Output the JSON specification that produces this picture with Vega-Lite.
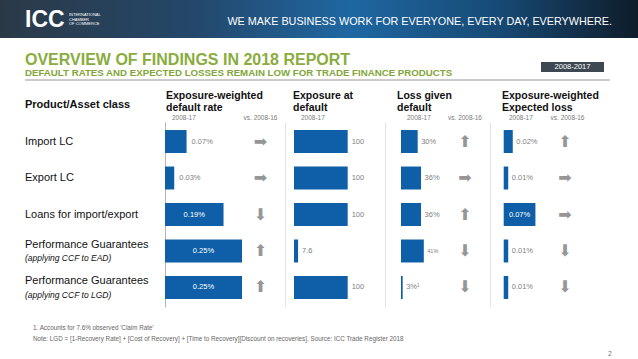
{
  "$schema": "https://vega.github.io/schema/vega-lite/v6.json",
  "padding": 0,
  "background": "white",
  "spacing": 0,
  "config": {
    "view": {"stroke": null},
    "font": "Liberation Sans",
    "title": {"font": "Liberation Sans"},
    "concat": {"spacing": 0}
  },
  "datasets": {
    "rows": [
      {"key": "Import LC", "l1": "Import LC", "l2": null, "dr": 0.07, "drL": "0.07%", "drA": "➡", "ead": 100, "eadL": "100", "lgd": 30, "lgdL": "30%", "lgdA": "⬆", "el": 0.02, "elL": "0.02%", "elA": "⬆"},
      {"key": "Export LC", "l1": "Export LC", "l2": null, "dr": 0.03, "drL": "0.03%", "drA": "➡", "ead": 100, "eadL": "100", "lgd": 36, "lgdL": "36%", "lgdA": "➡", "el": 0.01, "elL": "0.01%", "elA": "➡"},
      {"key": "Loans for import/export", "l1": "Loans for import/export", "l2": null, "dr": 0.19, "drL": "0.19%", "drA": "⬇", "ead": 100, "eadL": "100", "lgd": 36, "lgdL": "36%", "lgdA": "⬆", "el": 0.07, "elL": "0.07%", "elA": "➡"},
      {"key": "Performance Guarantees (applying CCF to EAD)", "l1": "Performance Guarantees", "l2": "(applying CCF to EAD)", "dr": 0.25, "drL": "0.25%", "drA": "⬆", "ead": 7.6, "eadL": "7.6", "lgd": 41, "lgdL": "41%", "lgdA": "⬇", "el": 0.01, "elL": "0.01%", "elA": "⬇"},
      {"key": "Performance Guarantees (applying CCF to LGD)", "l1": "Performance Guarantees", "l2": "(applying CCF to LGD)", "dr": 0.25, "drL": "0.25%", "drA": "⬆", "ead": 100, "eadL": "100", "lgd": 3, "lgdL": "3%¹", "lgdA": "⬇", "el": 0.01, "elL": "0.01%", "elA": "⬇"}
    ]
  },
  "vconcat": [
    {
      "width": 638, "height": 38,
      "data": {"values": [{}]},
      "layer": [
        {"mark": {"type": "rect", "color": {"gradient": "linear", "x1": 0, "x2": 1, "y1": 0, "y2": 0, "stops": [{"offset": 0, "color": "#2b3947"}, {"offset": 0.3, "color": "#24476a"}, {"offset": 0.55, "color": "#1f67a2"}, {"offset": 0.78, "color": "#174a75"}, {"offset": 1, "color": "#0f1c2a"}]}}, "encoding": {}},
        {"mark": {"type": "text", "text": "ICC", "align": "left", "baseline": "middle", "dx": -294, "dy": 1, "color": "white", "fontSize": 23, "fontWeight": "bold"}, "encoding": {}},
        {"mark": {"type": "text", "text": ["INTERNATIONAL", "CHAMBER", "OF COMMERCE"], "align": "left", "baseline": "middle", "dx": -250, "dy": -4, "color": "white", "fontSize": 4, "lineHeight": 4.5}, "encoding": {}},
        {"mark": {"type": "text", "text": "WE MAKE BUSINESS WORK FOR EVERYONE, EVERY DAY, EVERYWHERE.", "align": "right", "baseline": "middle", "dx": 293, "dy": 3, "color": "white", "fontSize": 10.8}, "encoding": {}}
      ]
    },
    {
      "hconcat": [
        {"width": 25, "height": 41, "data": {"values": []}, "mark": {"type": "text", "text": ""}, "encoding": {}},
        {
          "width": 516, "height": 41,
          "data": {"values": [{}]},
          "layer": [
            {"mark": {"type": "text", "text": "OVERVIEW OF FINDINGS IN 2018 REPORT", "align": "left", "baseline": "middle", "dx": -258, "dy": 1.5, "fontSize": 16, "fontWeight": "bold", "color": "#8aac3e"}, "encoding": {}},
            {"mark": {"type": "text", "text": "DEFAULT RATES AND EXPECTED LOSSES REMAIN LOW FOR TRADE FINANCE PRODUCTS", "align": "left", "baseline": "middle", "dx": -258, "dy": 14.5, "fontSize": 9.7, "fontWeight": "bold", "color": "#82a539"}, "encoding": {}}
          ]
        },
        {
          "vconcat": [
            {"width": 63, "height": 24, "data": {"values": []}, "mark": {"type": "text", "text": ""}, "encoding": {}},
            {"width": 63, "height": 10, "view": {"fill": "#3e4852", "stroke": null}, "data": {"values": [{}]}, "mark": {"type": "text", "text": "2008-2017", "color": "white", "fontSize": 7.5, "baseline": "middle", "align": "center"}, "encoding": {}}
          ]
        }
      ]
    },
    {
      "hconcat": [
        {"width": 25, "height": 2, "data": {"values": []}, "mark": {"type": "text", "text": ""}, "encoding": {}},
        {"width": 585, "height": 2, "data": {"values": [{}]}, "mark": {"type": "rect", "color": "#cccccc"}, "encoding": {}}
      ]
    },
    {"width": 1, "height": 7, "data": {"values": []}, "mark": {"type": "text", "text": ""}, "encoding": {}},
    {
      "hconcat": [
        {
          "title": {"text": [" ", "Product/Asset class"], "anchor": "start", "dx": 25, "fontSize": 11, "fontWeight": "bold", "lineHeight": 10.75, "offset": 4.5, "color": "#111111"},
          "hconcat": [
            {
              "width": 165, "height": 185,
              "title": {"text": " ", "fontSize": 6.5, "offset": 1},
              "data": {"name": "rows"},
              "encoding": {"y": {"field": "key", "type": "nominal", "sort": null, "scale": {"type": "band", "paddingInner": 0.37, "paddingOuter": 0.22}, "axis": null}},
              "layer": [
                {"transform": [{"filter": "!datum.l2"}], "mark": {"type": "text", "align": "left", "baseline": "middle", "dx": -57.5, "fontSize": 11, "color": "#111111"}, "encoding": {"text": {"field": "l1"}}},
                {"transform": [{"filter": "datum.l2"}], "mark": {"type": "text", "align": "left", "baseline": "middle", "dx": -57.5, "dy": -6, "fontSize": 11, "color": "#111111"}, "encoding": {"text": {"field": "l1"}}},
                {"transform": [{"filter": "datum.l2"}], "mark": {"type": "text", "align": "left", "baseline": "middle", "dx": -57.5, "dy": 7.5, "fontSize": 8.5, "fontStyle": "italic", "color": "#111111"}, "encoding": {"text": {"field": "l2"}}}
              ]
            }
          ]
        },
        {
          "title": {"text": ["Exposure-weighted", "default rate"], "anchor": "start", "dx": 1, "fontSize": 10.5, "fontWeight": "bold", "lineHeight": 12.5, "offset": 1, "color": "#111111"},
          "hconcat": [
            {
              "width": 78, "height": 185,
              "title": {"text": "2008-17", "anchor": "start", "dx": 7, "fontSize": 6.5, "fontWeight": "normal", "color": "#7a7a7a", "offset": 1},
              "data": {"name": "rows"},
              "encoding": {"y": {"field": "key", "type": "nominal", "sort": null, "scale": {"type": "band", "paddingInner": 0.37, "paddingOuter": 0.22}, "axis": {"labels": false, "ticks": false, "title": null, "domain": true, "domainColor": "#b5b5b5", "grid": false}}},
              "layer": [
                {"mark": {"type": "bar", "color": "#0e5fa8"}, "encoding": {"x": {"field": "dr", "type": "quantitative", "scale": {"domain": [0, 0.2532], "nice": false, "zero": true}, "axis": null}}},
                {"transform": [{"filter": "datum.dr < 0.1"}], "mark": {"type": "text", "align": "left", "baseline": "middle", "dx": 5, "fontSize": 7.5, "color": "#808080"}, "encoding": {"x": {"field": "dr", "type": "quantitative"}, "text": {"field": "drL"}}},
                {"transform": [{"filter": "datum.dr >= 0.1"}, {"calculate": "datum.dr / 2", "as": "m"}], "mark": {"type": "text", "align": "center", "baseline": "middle", "fontSize": 7.5, "color": "white"}, "encoding": {"x": {"field": "m", "type": "quantitative"}, "text": {"field": "drL"}}}
              ]
            },
            {
              "width": 37, "height": 185,
              "title": {"text": "vs. 2008-16", "anchor": "middle", "dx": -6, "fontSize": 6.5, "fontWeight": "normal", "color": "#7a7a7a", "offset": 1},
              "data": {"name": "rows"},
              "mark": {"type": "text", "font": "DejaVu Sans", "fontSize": 16, "color": "#969696", "dx": -6, "baseline": "middle", "align": "center"},
              "encoding": {
                "y": {"field": "key", "type": "nominal", "sort": null, "scale": {"type": "band", "paddingInner": 0.37, "paddingOuter": 0.22}, "axis": null},
                "text": {"field": "drA"}
              }
            }
          ]
        },
        {
          "title": {"text": ["Exposure at", "default"], "anchor": "start", "dx": 8, "fontSize": 10.5, "fontWeight": "bold", "lineHeight": 12.5, "offset": 1, "color": "#111111"},
          "hconcat": [
            {
              "width": 100, "height": 185,
              "title": {"text": "2008-17", "anchor": "start", "dx": 16, "fontSize": 6.5, "fontWeight": "normal", "color": "#7a7a7a", "offset": 1},
              "data": {"name": "rows"},
              "encoding": {"y": {"field": "key", "type": "nominal", "sort": null, "scale": {"type": "band", "paddingInner": 0.37, "paddingOuter": 0.22}, "axis": {"labels": false, "ticks": false, "title": null, "domain": true, "domainColor": "#e3e3e3", "grid": false}}},
              "layer": [
                {"mark": {"type": "bar", "color": "#0e5fa8"}, "encoding": {"x": {"field": "ead", "type": "quantitative", "scale": {"domain": [-16.76, 169.5], "nice": false, "zero": true}, "axis": null}}},
                {"mark": {"type": "rule", "color": "#b5b5b5"}, "encoding": {"x": {"datum": 0}}},
                {"mark": {"type": "text", "align": "left", "baseline": "middle", "dx": 4, "fontSize": 7.5, "color": "#808080"}, "encoding": {"x": {"field": "ead", "type": "quantitative"}, "text": {"field": "eadL"}}}
              ]
            }
          ]
        },
        {
          "title": {"text": ["Loss given", "default"], "anchor": "start", "dx": 12, "fontSize": 10.5, "fontWeight": "bold", "lineHeight": 12.5, "offset": 1, "color": "#111111"},
          "hconcat": [
            {
              "width": 60, "height": 185,
              "title": {"text": "2008-17", "anchor": "start", "dx": 22, "fontSize": 6.5, "fontWeight": "normal", "color": "#7a7a7a", "offset": 1},
              "data": {"name": "rows"},
              "encoding": {"y": {"field": "key", "type": "nominal", "sort": null, "scale": {"type": "band", "paddingInner": 0.37, "paddingOuter": 0.22}, "axis": {"labels": false, "ticks": false, "title": null, "domain": true, "domainColor": "#e3e3e3", "grid": false}}},
              "layer": [
                {"mark": {"type": "bar", "color": "#0e5fa8"}, "encoding": {"x": {"field": "lgd", "type": "quantitative", "scale": {"domain": [-28.8, 79.1], "nice": false, "zero": true}, "axis": null}}},
                {"mark": {"type": "rule", "color": "#b5b5b5"}, "encoding": {"x": {"datum": 0}}},
                {"mark": {"type": "text", "align": "left", "baseline": "middle", "dx": 3.5, "color": "#808080"}, "encoding": {"x": {"field": "lgd", "type": "quantitative"}, "text": {"field": "lgdL"}, "size": {"condition": {"test": "datum.lgd == 41", "value": 5.5}, "value": 7.5}}}
              ]
            },
            {
              "width": 45, "height": 185,
              "title": {"text": "vs. 2008-16", "anchor": "middle", "dx": -2.5, "fontSize": 6.5, "fontWeight": "normal", "color": "#7a7a7a", "offset": 1},
              "data": {"name": "rows"},
              "mark": {"type": "text", "font": "DejaVu Sans", "fontSize": 16, "color": "#969696", "dx": -2.5, "baseline": "middle", "align": "center"},
              "encoding": {
                "y": {"field": "key", "type": "nominal", "sort": null, "scale": {"type": "band", "paddingInner": 0.37, "paddingOuter": 0.22}, "axis": null},
                "text": {"field": "lgdA"}
              }
            }
          ]
        },
        {
          "title": {"text": ["Exposure-weighted", "Expected loss"], "anchor": "start", "dx": 12, "fontSize": 10.5, "fontWeight": "bold", "lineHeight": 12.5, "offset": 1, "color": "#111111"},
          "hconcat": [
            {
              "width": 50, "height": 185,
              "title": {"text": "2008-17", "anchor": "start", "dx": 19, "fontSize": 6.5, "fontWeight": "normal", "color": "#7a7a7a", "offset": 1},
              "data": {"name": "rows"},
              "encoding": {"y": {"field": "key", "type": "nominal", "sort": null, "scale": {"type": "band", "paddingInner": 0.37, "paddingOuter": 0.22}, "axis": {"labels": false, "ticks": false, "title": null, "domain": true, "domainColor": "#e3e3e3", "grid": false}}},
              "layer": [
                {"mark": {"type": "bar", "color": "#0e5fa8"}, "encoding": {"x": {"field": "el", "type": "quantitative", "scale": {"domain": [-0.03024, 0.0801], "nice": false, "zero": true}, "axis": null}}},
                {"mark": {"type": "rule", "color": "#b5b5b5"}, "encoding": {"x": {"datum": 0}}},
                {"transform": [{"filter": "datum.el < 0.05"}], "mark": {"type": "text", "align": "left", "baseline": "middle", "dx": 3.5, "fontSize": 7.5, "color": "#808080"}, "encoding": {"x": {"field": "el", "type": "quantitative"}, "text": {"field": "elL"}}},
                {"transform": [{"filter": "datum.el >= 0.05"}, {"calculate": "datum.el / 2", "as": "m"}], "mark": {"type": "text", "align": "center", "baseline": "middle", "fontSize": 7.5, "color": "white"}, "encoding": {"x": {"field": "m", "type": "quantitative"}, "text": {"field": "elL"}}}
              ]
            },
            {
              "width": 55, "height": 185,
              "title": {"text": "vs. 2008-16", "anchor": "middle", "dx": 0, "fontSize": 6.5, "fontWeight": "normal", "color": "#7a7a7a", "offset": 1},
              "data": {"name": "rows"},
              "mark": {"type": "text", "font": "DejaVu Sans", "fontSize": 16, "color": "#969696", "dx": -2.5, "baseline": "middle", "align": "center"},
              "encoding": {
                "y": {"field": "key", "type": "nominal", "sort": null, "scale": {"type": "band", "paddingInner": 0.37, "paddingOuter": 0.22}, "axis": null},
                "text": {"field": "elA"}
              }
            }
          ]
        }
      ]
    },
    {
      "hconcat": [
        {"width": 33, "height": 54, "data": {"values": []}, "mark": {"type": "text", "text": ""}, "encoding": {}},
        {
          "width": 580, "height": 54,
          "data": {"values": [{}]},
          "layer": [
            {"mark": {"type": "text", "text": ["1. Accounts for 7.6% observed 'Claim Rate'", "Note: LGD = [1-Recovery Rate] + [Cost of Recovery] + [Time to Recovery][Discount on recoveries]. Source: ICC Trade Register 2018"], "align": "left", "baseline": "top", "dx": -290, "dy": -9.5, "fontSize": 6.3, "lineHeight": 11, "color": "#666666"}, "encoding": {}},
            {"mark": {"type": "text", "text": "2", "align": "right", "baseline": "middle", "dx": 289, "dy": 20, "fontSize": 7, "color": "#777777"}, "encoding": {}}
          ]
        }
      ]
    }
  ]
}
